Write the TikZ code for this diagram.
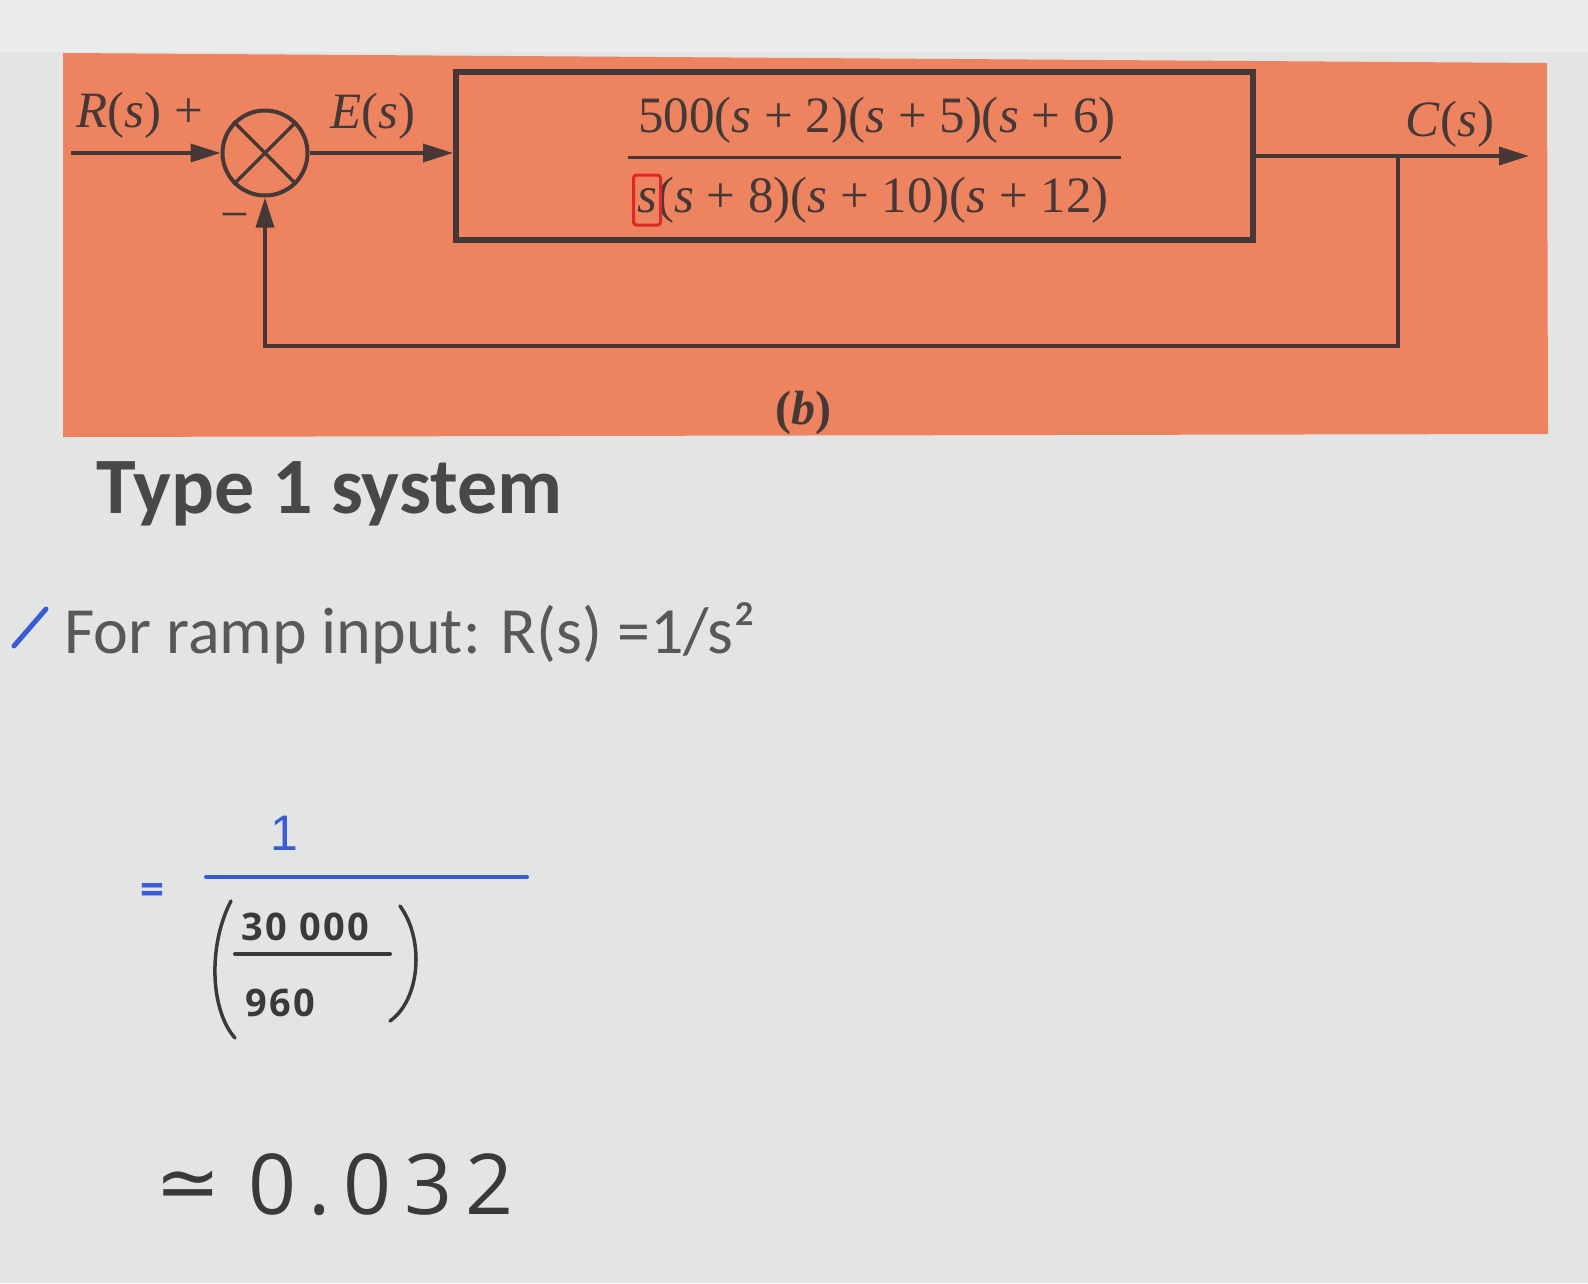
\documentclass[tikz,border=0pt]{standalone}
\usepackage{fontspec}
\setmainfont{Liberation Serif}
\newfontfamily\calfont{Carlito}
\newfontfamily\handfont{Open Sans}
\newfontfamily\onefont{Liberation Sans}
\newfontfamily\symfont{DejaVu Sans}
\usetikzlibrary{arrows.meta}
\definecolor{bg}{RGB}{227,229,228}
\definecolor{orng}{RGB}{237,132,95}
\definecolor{ink}{RGB}{70,56,54}
\definecolor{gtext}{RGB}{72,72,72}
\definecolor{gtext2}{RGB}{88,88,88}
\definecolor{hand}{RGB}{58,58,60}
\definecolor{pen}{RGB}{58,92,212}
\definecolor{mark}{RGB}{222,40,40}
\newcommand{\vs}{\textit{s}}
\newcommand{\fsz}[1]{\fontsize{#1}{#1}\selectfont}
\begin{document}
\begin{tikzpicture}[x=1pt,y=-1pt,
  conn/.style={draw=ink, line width=3.5pt},
  tip/.style={-{Triangle[length=30pt,width=18pt]}},
  sumj/.style={circle, draw=ink, line width=4pt, minimum size=85pt, inner sep=0pt},
  blk/.style={rectangle, draw=ink, line width=6pt, minimum width=797pt, minimum height=168pt, inner sep=0pt},
  lbl/.style={text=ink, inner sep=0pt, font=\fsz{51}},
  redbox/.style={draw=mark, line width=3pt, rounded corners=3pt, minimum width=27pt, minimum height=50pt, inner sep=0pt},
  handtxt/.style={text=hand, inner sep=0pt},
  pentxt/.style={text=pen, inner sep=0pt}
]
\useasboundingbox (0,0) rectangle (1588,1283);
\fill[bg] (0,0) rectangle (1588,1283);
\fill[bg!75!white] (0,0) rectangle (1588,52);
% orange panel
\fill[orng] (63,53) -- (1547,63) -- (1548,434) -- (63,437) -- cycle;

% block diagram
\node[sumj] (sum) at (265,153) {};
\draw[ink, line width=3.5pt] (sum.north west) -- (sum.south east);
\draw[ink, line width=3.5pt] (sum.north east) -- (sum.south west);
\node[blk] (G) at (854.5,156) {};
\coordinate (in) at (71,153);
\coordinate (out) at (1529,156);
\coordinate (br) at (1398,156);
\coordinate (fb) at (1398,346);
\draw[conn,tip] (in) -- (sum.west);
\draw[conn,tip] (sum.east) -- (sum.east -| G.west);
\draw[conn,tip] (G.east) -- (out);
\draw[conn,tip] (br) -- (fb) -| (sum.south);

\node[lbl] (Rl) at (140,115) {\textit{R}(\vs) +};
\node[lbl] (El) at (373,116) {\textit{E}(\vs)};
\node[lbl] (Cl) at (1450,124) {\textit{C}(\vs)};
\node[lbl] (minus) at (235,222) {−};
\node[lbl, font=\fsz{48}\bfseries] (bl) at (803,413) {(\textit{b})};

\node[lbl] (num) at (877,120) {500(\vs{} + 2)(\vs{} + 5)(\vs{} + 6)};
\node[lbl, anchor=west] (den) at (637,200) {\vs(\vs{} + 8)(\vs{} + 10)(\vs{} + 12)};
\coordinate (barL) at (628,157);
\coordinate (barR) at (1121,157);
\draw[ink, line width=3pt] (barL) -- (barR);
\node[redbox] (sel) at (647,200) {};

% texts
\node[anchor=base west, inner sep=0pt, text=gtext, font=\calfont\bfseries\fsz{80}] (type) at (96,513) {Type 1 system};
\coordinate (slA) at (14,646);
\coordinate (slB) at (46,609);
\draw[pen, line width=5pt, line cap=round] (slA) -- (slB);
\node[anchor=base west, inner sep=0pt, text=gtext2, font=\calfont\fsz{66}] (ramp) at (64,653) {For ramp input: R(s) =1/s²};

% handwritten
\node[pentxt, font=\handfont\bfseries\fsz{42}] (eq1) at (152,894) {=};
\node[pentxt, font=\onefont\fsz{50}] (one) at (284,833) {1};
\coordinate (fl) at (206,877);
\coordinate (fr) at (527,877);
\draw[pen, line width=4pt, line cap=round] (fl) -- (fr);
\node[handtxt, font=\handfont\bfseries\fsz{38}\addfontfeature{LetterSpace=6}] (n30) at (305,927) {30 000};
\coordinate (il) at (235,954);
\coordinate (ir) at (390,954);
\draw[hand, line width=4pt, line cap=round] (il) -- (ir);
\node[handtxt, font=\handfont\bfseries\fsz{38}\addfontfeature{LetterSpace=6}] (n960) at (280,1003) {960};
\draw[hand, line width=3.5pt, line cap=round] (231,901) .. controls (208,945) and (210,1010) .. (235,1038);
\draw[hand, line width=3.5pt, line cap=round] (400,906) .. controls (425,940) and (420,1000) .. (390,1021);

\node[handtxt, font=\symfont\fsz{78}] (approx) at (188,1190) {≃};
\node[handtxt, anchor=west, font=\handfont\fsz{84}\addfontfeature{LetterSpace=15}] (res) at (248,1185) {0.032};
\end{tikzpicture}
\end{document}
